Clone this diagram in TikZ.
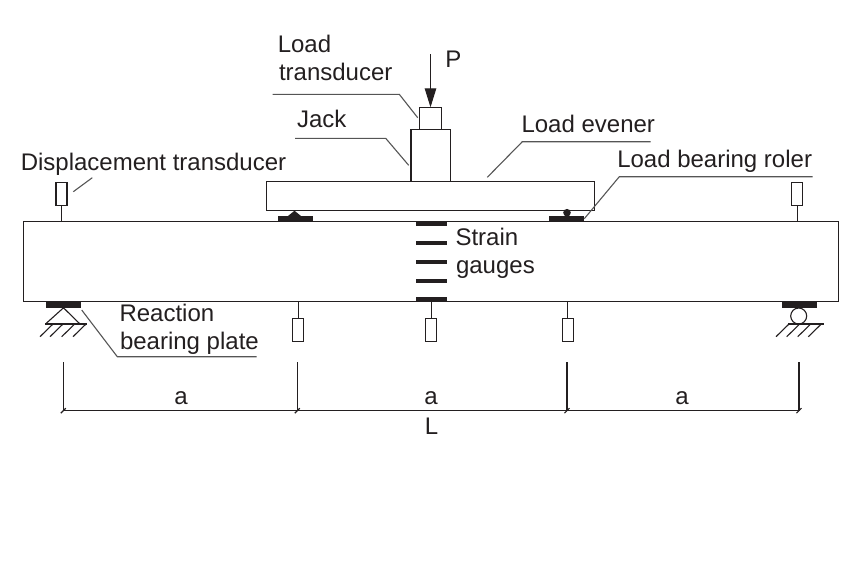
\documentclass[tikz,border=0pt]{standalone}
\usepackage{fontspec}
\setmainfont{Liberation Sans}
\usetikzlibrary{arrows.meta}

\definecolor{inkblack}{HTML}{231F20}
\definecolor{leadergray}{HTML}{555555}

\begin{document}
\begin{tikzpicture}[  x = 1pt,  y = -1pt,  > = {Triangle[length=19pt,width=11.5pt]},  line width = 1.1pt,  draw = inkblack,
  font = \fontsize{24}{28}\selectfont,  text = inkblack,
  member/.style = {draw = inkblack, inner sep = 0pt, outer sep = 0pt, fill = white},
  gauge/.style = {member, minimum width = 11pt, minimum height = 23pt},
  plate/.style = {fill = inkblack, inner sep = 0pt, outer sep = 0pt, minimum width = 35pt, minimum height = 6pt},
  strip/.style = {fill = inkblack, inner sep = 0pt, outer sep = 0pt, minimum width = 31pt, minimum height = 4pt},
  label/.style = {anchor = base west, inner sep = 0pt},
  dimtext/.style = {anchor = base, inner sep = 0pt},
  leader/.style = {draw = leadergray}]
  \useasboundingbox (0,0) rectangle (857,574);

  % Define nodes
  \node (beam) [member, minimum width = 815.2pt, minimum height = 80pt] at (431.1,261.7) {};
  \node (evener) [member, minimum width = 327.8pt, minimum height = 29.4pt] at (430.4,196) {};
  \node (jack) [member, minimum width = 39.3pt, minimum height = 52pt] at (430.6,155.3) {};
  \node (cell) [member, minimum width = 22.4pt, minimum height = 22pt] at (430.5,118.3) {};
  \coordinate (ptop) at (430.5,54);

  \node (dtleft) [gauge] at (61.5,193.8) {};
  \node (dtright) [gauge] at (797.2,193.8) {};
  \node (dtone) [gauge] at (298.2,329.8) {};
  \node (dttwo) [gauge] at (431.2,329.8) {};
  \node (dtthree) [gauge] at (567.8,329.8) {};

  \node (platetl) [plate] at (295.7,218.8) {};
  \node (platetr) [plate] at (566.8,218.8) {};
  \node (platebl) [plate] at (63.5,304.8) {};
  \node (platebr) [plate] at (799.2,304.8) {};

  \node (sgone) [strip] at (431.5,224) {};
  \node (sgtwo) [strip] at (431.5,242.7) {};
  \node (sgthree) [strip] at (431.5,262) {};
  \node (sgfour) [strip] at (431.5,280.7) {};
  \node (sgfive) [strip] at (431.5,299) {};

  \node (roller) [circle, member, minimum size = 16pt] at (798.7,316) {};

  \node (tdisp) [label] at (20.2,170.7) {Displacement transducer};
  \node (tload) [label] at (277.2,52.7) {Load};
  \node (ttrans) [label] at (278.5,80.7) {transducer};
  \node (tp) [label] at (444.7,67.7) {P};
  \node (tjack) [label] at (296.5,127.7) {Jack};
  \node (tevener) [label] at (521,132.7) {Load evener};
  \node (troler) [label] at (616.7,167.7) {Load bearing roler};
  \node (tstrain) [label] at (455,245) {Strain};
  \node (tgauges) [label] at (455.5,273.3) {gauges};
  \node (treact) [label] at (119,321) {Reaction};
  \node (tplate) [label] at (119.5,349.3) {bearing plate};

  % Dimension points
  \coordinate (dimA) at (63.3,410.7);
  \coordinate (dimB) at (297.3,410.7);
  \coordinate (dimC) at (567,410.7);
  \coordinate (dimD) at (799,410.7);
  \node (ta) [dimtext] at (181,404) {a};
  \node (tb) [dimtext] at (431,404) {a};
  \node (tc) [dimtext] at (682,404) {a};
  \node (tl) [dimtext] at (431.5,434) {L};

  % Draw arrows
  \draw[->] (ptop) -- (cell.north);

  % Transducer stems
  \draw (dtleft.south) -- (dtleft.south |- beam.north);
  \draw (dtright.south) -- (dtright.south |- beam.north);
  \draw (dtone.north) -- (dtone.north |- beam.south);
  \draw (dttwo.north) -- (dttwo.north |- beam.south);
  \draw (dtthree.north) -- (dtthree.north |- beam.south);

  % Bearing pieces under the evener
  \fill[inkblack] (288,216) -- (294.5,210.7) -- (301,216) -- cycle;
  \fill[inkblack] (567,212.7) circle (3.8pt);

  % Supports
  \draw (platebl.south) -- (45.5,324) (platebl.south) -- (80,324);
  \draw (45,324) -- (86.7,324);
  \foreach \hx in {40,50,61.7,73}
    \draw (\hx,336.7) -- ++(13,-12.7);
  \draw (788,324) -- (824,324);
  \foreach \hx in {776,786.7,797.7,808.3}
    \draw (\hx,336.7) -- ++(13,-12.7);

  % Leader lines
  \coordinate (ldispa) at (73.3,191.7);
  \coordinate (ldispb) at (92.3,177.7);
  \draw[leader] (ldispa) -- (ldispb);
  \coordinate (lreact) at (81.7,310);
  \draw[leader] (lreact) -- (117.3,356.7) -- (256.7,356.7);
  \coordinate (lcell) at (417.7,117.7);
  \draw[leader] (272.7,94.3) -- (399.3,94.3) -- (lcell);
  \coordinate (ljack) at (408.7,165.3);
  \draw[leader] (295,138.3) -- (385.7,138.3) -- (ljack);
  \coordinate (leven) at (487.3,177.3);
  \draw[leader] (leven) -- (522.3,141.7) -- (650.7,141.7);
  \coordinate (lroler) at (584.3,218.7);
  \draw[leader] (lroler) -- (619.3,176.7) -- (812.7,176.7);

  % Dimension line
  \draw (dimA) -- (dimD);
  \draw (dimA) -- ++(0,-48.4);
  \draw (dimB) -- ++(0,-48.4);
  \draw (dimC) -- ++(0,-48.4);
  \draw (dimD) -- ++(0,-48.4);
  \foreach \dimpt in {dimA,dimB,dimC,dimD}
    \draw (\dimpt) ++(-2.5,2.5) -- ++(5,-5);
\end{tikzpicture}
\end{document}
